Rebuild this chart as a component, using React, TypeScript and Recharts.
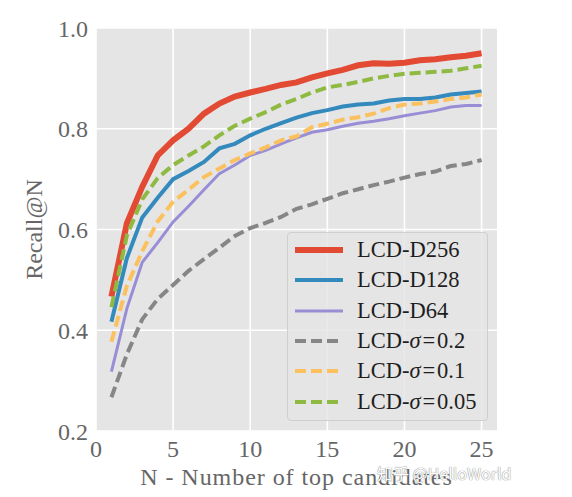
import React from 'react';
import { LineChart, Line, XAxis, YAxis, CartesianGrid, Legend } from 'recharts';

const N = [1, 2, 3, 4, 5, 6, 7, 8, 9, 10, 11, 12, 13, 14, 15, 16, 17, 18, 19, 20, 21, 22, 23, 24, 25];

const D256 = [0.467, 0.612, 0.685, 0.747, 0.777, 0.800, 0.830, 0.850, 0.864, 0.872, 0.879, 0.887, 0.892, 0.902, 0.910, 0.917, 0.926, 0.930, 0.929, 0.931, 0.936, 0.938, 0.942, 0.945, 0.950];
const D128 = [0.417, 0.543, 0.624, 0.663, 0.700, 0.716, 0.734, 0.761, 0.770, 0.787, 0.800, 0.811, 0.822, 0.831, 0.837, 0.844, 0.848, 0.850, 0.856, 0.859, 0.859, 0.862, 0.868, 0.871, 0.874];
const D64 = [0.318, 0.443, 0.535, 0.574, 0.615, 0.646, 0.679, 0.711, 0.728, 0.747, 0.757, 0.770, 0.782, 0.793, 0.798, 0.805, 0.811, 0.815, 0.820, 0.826, 0.831, 0.836, 0.843, 0.846, 0.846];
const S02 = [0.267, 0.352, 0.422, 0.462, 0.490, 0.518, 0.541, 0.564, 0.587, 0.603, 0.613, 0.625, 0.641, 0.650, 0.661, 0.672, 0.680, 0.688, 0.695, 0.703, 0.710, 0.715, 0.726, 0.730, 0.738];
const S01 = [0.377, 0.488, 0.557, 0.616, 0.655, 0.679, 0.704, 0.721, 0.738, 0.751, 0.763, 0.777, 0.785, 0.803, 0.810, 0.818, 0.823, 0.830, 0.841, 0.848, 0.850, 0.854, 0.859, 0.862, 0.868];
const S005 = [0.446, 0.588, 0.660, 0.702, 0.728, 0.747, 0.765, 0.787, 0.806, 0.820, 0.833, 0.848, 0.859, 0.872, 0.882, 0.887, 0.893, 0.900, 0.905, 0.909, 0.911, 0.913, 0.915, 0.920, 0.925];

const X_TICKS = [0, 5, 10, 15, 20, 25];
const Y_TICKS = [0.2, 0.4, 0.6, 0.8, 1.0];

type Series = {
  key: string;
  prefix: string;
  sym?: string;
  suffix: string;
  color: string;
  width: number;
  dash?: string;
  values: number[];
};

const SERIES: Series[] = [
  { key: 'd256', prefix: 'LCD-D256', suffix: '', color: '#E24A33', width: 6, values: D256 },
  { key: 'd128', prefix: 'LCD-D128', suffix: '', color: '#348ABD', width: 4, values: D128 },
  { key: 'd64', prefix: 'LCD-D64', suffix: '', color: '#988ED5', width: 3, values: D64 },
  { key: 's02', prefix: 'LCD-', sym: 'σ', suffix: '=0.2', color: '#868686', width: 4, dash: '11 5', values: S02 },
  { key: 's01', prefix: 'LCD-', sym: 'σ', suffix: '=0.1', color: '#FBC15E', width: 4, dash: '11 5', values: S01 },
  { key: 's005', prefix: 'LCD-', sym: 'σ', suffix: '=0.05', color: '#8EBA42', width: 4, dash: '11 5', values: S005 },
];

const rows = N.map((n, i) => {
  const r: Record<string, number> = { n };
  SERIES.forEach((s) => {
    r[s.key] = s.values[i];
  });
  return r;
});

const FONT = '"Liberation Serif", "DejaVu Serif", serif';

const LegendBox = () => (
  <div
    style={{
      width: 201,
      height: 189,
      boxSizing: 'border-box',
      background: 'rgba(229,229,229,0.85)',
      border: '1px solid #cfcfcf',
      borderRadius: 4,
      paddingTop: 2,
      fontFamily: FONT,
      fontSize: 22.5,
      color: '#1e1e1e',
    }}
  >
    {SERIES.map((s) => (
      <div key={s.key} style={{ height: 30.3, display: 'flex', alignItems: 'center' }}>
        <svg width={56} height={12} style={{ marginLeft: 6, flexShrink: 0 }}>
          <line x1={1} x2={49} y1={6} y2={6} stroke={s.color} strokeWidth={s.width} strokeDasharray={s.dash} />
        </svg>
        <span style={{ marginLeft: 7, whiteSpace: 'nowrap' }}>
          {s.prefix}
          {s.sym ? <i>{s.sym}</i> : null}
          {s.suffix ? <span>{s.suffix.replace('=', '\u200A=\u200A')}</span> : null}
        </span>
      </div>
    ))}
  </div>
);

export default function App() {
  return (
    <div style={{ position: 'absolute', left: 0, top: 0, width: 572, height: 497, background: '#fff' }}>
      <LineChart width={572} height={497} data={rows} margin={{ top: 28, right: 75, left: 36, bottom: 16 }}>
        <CartesianGrid fill="#E5E5E5" stroke="#ffffff" strokeWidth={1.6} horizontalValues={Y_TICKS} verticalValues={X_TICKS} />
        <XAxis
          dataKey="n"
          type="number"
          domain={[0, 26]}
          ticks={X_TICKS}
          allowDataOverflow
          height={50}
          axisLine={false}
          tickLine={false}
          tickMargin={3}
          tick={{ fontSize: 24, fill: '#666', fontFamily: FONT }}
          label={{
            content: () => (
              <text x={296.5} y={485} textAnchor="middle" fontSize={24} fill="#666" fontFamily={FONT} letterSpacing={0.95}>
                N - Number of top candidates
              </text>
            ),
          }}
        />
        <YAxis
          type="number"
          domain={[0.2, 1.0]}
          ticks={Y_TICKS}
          allowDataOverflow
          width={60}
          axisLine={false}
          tickLine={false}
          tickFormatter={(v: number) => v.toFixed(1)}
          tick={{ fontSize: 24, fill: '#666', fontFamily: FONT }}
          label={{
            content: () => (
              <text x={42} y={229.5} transform="rotate(-90 42 229.5)" textAnchor="middle" fontSize={24} fill="#666" fontFamily={FONT}>
                Recall@N
              </text>
            ),
          }}
        />
        {SERIES.map((s) => (
          <Line
            key={s.key}
            dataKey={s.key}
            name={s.prefix + (s.sym || '') + s.suffix}
            stroke={s.color}
            strokeWidth={s.width}
            strokeDasharray={s.dash}
            dot={false}
            activeDot={false}
            type="linear"
            isAnimationActive={false}
          />
        ))}
        <Legend
          layout="vertical"
          align="center"
          verticalAlign="middle"
          content={() => <LegendBox />}
          wrapperStyle={{ left: 287, top: 232, width: 201, height: 189 }}
        />
      </LineChart>
      <div
        style={{
          position: 'absolute',
          left: 377,
          top: 461,
          fontFamily: '"Noto Sans CJK SC", "Noto Sans", sans-serif',
          fontSize: 16,
          color: '#ffffff',
          textShadow: '0 0 1px #8a8a8a, 0 0 1px #8a8a8a',
          whiteSpace: 'nowrap',
          pointerEvents: 'none',
        }}
      >
        知乎 @HelloWorld
      </div>
    </div>
  );
}
